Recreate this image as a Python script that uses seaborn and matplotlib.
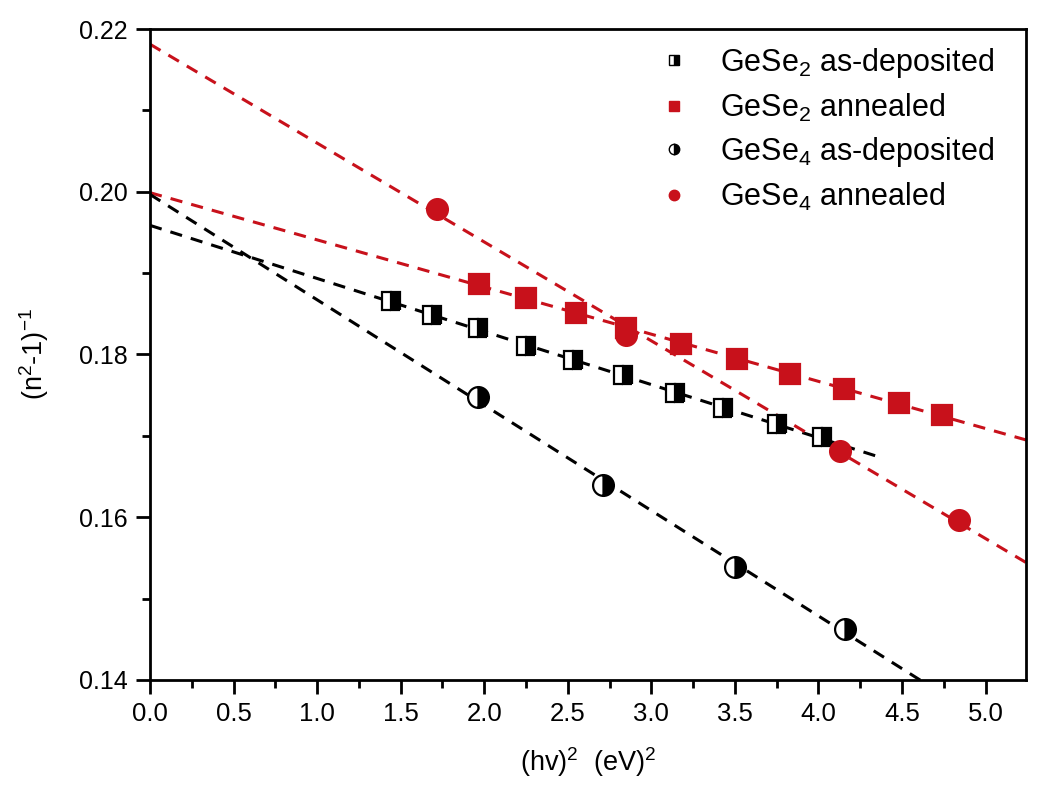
import numpy as np
import pandas as pd
import seaborn as sns
import matplotlib.pyplot as plt

# values: (hv)^2 in eV^2, (n^2-1)^-1
x_gese2_dep = [1.44, 1.69, 1.96, 2.25, 2.53, 2.83, 3.14, 3.43, 3.75, 4.02]
y_gese2_dep = [0.1866, 0.1848, 0.1832, 0.1810, 0.1793, 0.1775, 0.1753, 0.1734, 0.1714, 0.1698]
x_gese2_ann = [1.97, 2.25, 2.55, 2.85, 3.18, 3.51, 3.83, 4.15, 4.48, 4.74]
y_gese2_ann = [0.1887, 0.1869, 0.1851, 0.1832, 0.1813, 0.1794, 0.1776, 0.1758, 0.1740, 0.1726]
x_gese4_dep = [1.96, 2.71, 3.50, 4.16]
y_gese4_dep = [0.1748, 0.1640, 0.1539, 0.1463]
x_gese4_ann = [1.72, 2.85, 4.13, 4.84]
y_gese4_ann = [0.1979, 0.1824, 0.1681, 0.1596]
fit_end = [4.35, 5.25, 5.25, 5.25]  # how far each fitted line is drawn
labels = ['GeSe$_2$ as-deposited', 'GeSe$_2$ annealed',
          'GeSe$_4$ as-deposited', 'GeSe$_4$ annealed']

sns.set_style('ticks', {'axes.edgecolor': 'black', 'text.color': 'black',
                        'axes.labelcolor': 'black', 'xtick.color': 'black',
                        'ytick.color': 'black'})
plt.rcParams['font.family'] = ['Liberation Sans', 'DejaVu Sans']
plt.rcParams['mathtext.fontset'] = 'custom'
plt.rcParams['mathtext.rm'] = 'Liberation Sans'
plt.rcParams['mathtext.it'] = 'Liberation Sans:italic'

red = '#c8111b'
series = [
    (x_gese2_dep, y_gese2_dep, 's', 'black', 'right', 13),
    (x_gese2_ann, y_gese2_ann, 's', red, 'full', 14),
    (x_gese4_dep, y_gese4_dep, 'o', 'black', 'right', 15),
    (x_gese4_ann, y_gese4_ann, 'o', red, 'full', 15),
]

fig = plt.figure(figsize=(10.43, 7.95), dpi=100)
ax = fig.add_axes([0.1438, 0.1447, 0.8396, 0.8188])

handles = []
for (xs, ys, mk, col, fill, ms), end, lab in zip(series, fit_end, labels):
    # linear fit, dashed
    m, b = np.polyfit(xs, ys, 1)
    xf = np.linspace(0, end, 50)
    fit = pd.DataFrame({'x': xf, 'y': m * xf + b})
    sns.lineplot(data=fit, x='x', y='y', ax=ax, color=col, lw=2.2,
                 linestyle=(0, (4, 3)), zorder=2)
    # data points
    df = pd.DataFrame({'x': xs, 'y': ys})
    sns.lineplot(data=df, x='x', y='y', ax=ax, linestyle='none', marker=mk,
                 markersize=ms, fillstyle=fill, markerfacecolor=col,
                 markerfacecoloralt='white', markeredgecolor=col,
                 markeredgewidth=1.6, zorder=3)
    h, = ax.plot([], [], linestyle='none', marker=mk, markersize=ms,
                 fillstyle=fill, markerfacecolor=col, markerfacecoloralt='white',
                 markeredgecolor=col, markeredgewidth=1.0, label=lab)
    handles.append(h)

ax.set_xlim(0, 5.24)
ax.set_ylim(0.14, 0.22)
ax.set_xticks(np.arange(0, 5.01, 0.5))
ax.set_xticks(np.arange(0.25, 5.2, 0.5), minor=True)
ax.set_yticks([0.14, 0.16, 0.18, 0.20, 0.22])
ax.set_yticks([0.15, 0.17, 0.19, 0.21], minor=True)
ax.set_yticklabels(['0.14', '0.16', '0.18', '0.20', '0.22'], fontsize=18)
ax.set_xticklabels([f'{v:.1f}' for v in np.arange(0, 5.01, 0.5)], fontsize=18.5)
ax.tick_params(which='major', direction='out', length=10, width=2, pad=6)
ax.tick_params(which='minor', direction='out', length=6, width=2)
for s in ax.spines.values():
    s.set_linewidth(2)
    s.set_visible(True)

ax.set_xlabel('(hv)$^2$  (eV)$^2$', fontsize=19.5, labelpad=14)
ax.set_ylabel('(n$^2$-1)$^{-1}$', fontsize=19.5, labelpad=20)

ax.legend(handles=handles, loc='upper right', bbox_to_anchor=(0.983, 1.0),
          frameon=False, fontsize=22, markerscale=0.5, handlelength=1.0,
          handletextpad=1.0, labelspacing=0.38, borderaxespad=0.15, numpoints=1)

fig.savefig('out.png', dpi=100)
